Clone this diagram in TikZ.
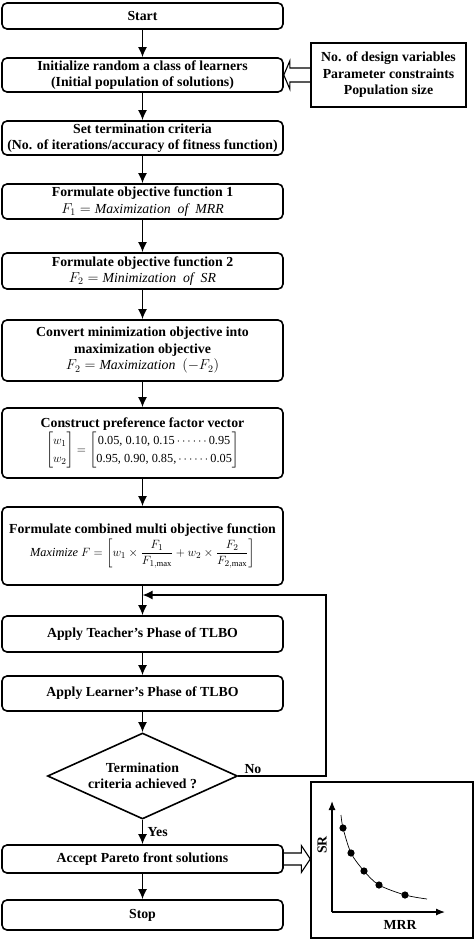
\documentclass[tikz,border=0pt]{standalone}
\usepackage{fontspec}
\setmainfont{Liberation Serif}
\usepackage{amsmath}
\usetikzlibrary{calc}
\usetikzlibrary{arrows,arrows.meta}
\usetikzlibrary{shapes.geometric}

\newcommand{\boxfont}{\bfseries\fontsize{13.8}{16.5}\selectfont}
\newcommand{\eqfont}{\mdseries\fontsize{12.3}{15}\selectfont}
\tikzset{
  stepbox/.style={draw, line width=1.6pt, rounded corners=5pt, minimum width=281pt, inner sep=1pt, align=center, font=\boxfont},
  flow/.style={line width=1.6pt, -{Latex[length=10pt,width=9pt]}},
  hollow/.style={line width=1.1pt, line join=miter},
}

\begin{document}
\begin{tikzpicture}[x=1pt, y=-1pt]
\useasboundingbox (0,0) rectangle (474,939);
% main column
\node[stepbox, minimum height=26pt] (start) at (142.5,16) {Start};
\node[stepbox, minimum height=34pt] (init) at (142.5,75) {Initialize random a class of learners\\(Initial population of solutions)};
\node[stepbox, minimum height=34pt] (term) at (142.5,138) {Set termination criteria\\(No. of iterations/accuracy of fitness function)};
\node[stepbox, minimum height=35pt] (obj1) at (142.5,201.5) {Formulate objective function 1\\ \mdseries $F_1 = \mathit{Maximization\ \ of\ \ MRR}$};
\node[stepbox, minimum height=36pt] (obj2) at (142.5,271) {Formulate objective function 2\\ \mdseries $F_2 = \mathit{Minimization\ \ of\ \ SR}$};
\node[stepbox, minimum height=61pt] (conv) at (142.5,350.5) {Convert minimization objective into\\maximization objective\\ \mdseries $F_2 = \mathit{Maximization}\ \ (-F_2)$};
\node[stepbox, minimum height=70pt] (pref) at (142.5,443) {Construct preference factor vector\\[1pt] \eqfont $\left[\begin{matrix} w_1\\[3pt] w_2\end{matrix}\right] = \left[\begin{matrix}\text{0.05, 0.10, 0.15}\cdots\cdots\text{0.95}\\[3pt] \text{0.95, 0.90, 0.85,}\cdots\cdots\text{0.05}\end{matrix}\right]$};
\node[stepbox, minimum height=78pt] (comb) at (142.5,546) {Formulate combined multi objective function\\[2pt] \eqfont $\mathit{Maximize}\ F = \left[ w_1 \times \dfrac{F_1}{F_{1,\max}} + w_2 \times \dfrac{F_2}{F_{2,\max}} \right]$};
\node[stepbox, minimum height=36pt] (teach) at (142.5,634) {Apply Teacher's Phase of TLBO};
\node[stepbox, minimum height=35pt] (learn) at (142.5,693.5) {Apply Learner's Phase of TLBO};
\node[draw, diamond, aspect=2.2, line width=1.6pt, minimum width=190pt, minimum height=86pt, inner sep=0pt, align=center, font=\boxfont] (check) at (142.5,776) {Termination\\criteria achieved ?};
\node[stepbox, minimum height=28pt] (accept) at (142.5,859) {Accept Pareto front solutions};
\node[stepbox, minimum height=30pt] (stop) at (142.5,915) {Stop};

\foreach \a/\b in {start/init, init/term, term/obj1, obj1/obj2, obj2/conv, conv/pref, pref/comb, comb/teach, teach/learn, learn/check, check/accept, accept/stop}
  \draw[flow] (\a) -- (\b);

% loop back
\coordinate (back) at (326,595);
\coordinate (join) at (142.5,595);
\draw[flow] (check.east) -| (back) -- (join);
\node[anchor=south west, font=\boxfont, inner sep=1pt] at ($(check.east)+(5,-1)$) {No};
\node[anchor=west, font=\boxfont, inner sep=1pt] at ($(check.south)!0.5!(accept.north)+(4,0)$) {Yes};

% side inputs
\node[draw, line width=1.4pt, minimum width=155pt, minimum height=64pt, inner sep=1pt, align=center, font=\boxfont] (vars) at (388.5,75) {No. of design variables\\Parameter constraints\\Population size};
\draw[hollow] ($(vars.west)+(0,-7)$) -- ($(init.east)+(6,-7)$) -- ($(init.east)+(6,-14)$) -- (init.east) -- ($(init.east)+(6,14)$) -- ($(init.east)+(6,7)$) -- ($(vars.west)+(0,7)$);

% pareto plot
\node[draw, line width=1.4pt, minimum width=162pt, minimum height=156pt] (plot) at (392,860) {};
\coordinate (tip) at (accept.east -| plot.west);
\draw[hollow] ($(accept.east)+(0,-6)$) -- ($(tip)+(-9,-6)$) -- ($(tip)+(-9,-13.5)$) -- (tip) -- ($(tip)+(-9,13.5)$) -- ($(tip)+(-9,6)$) -- ($(accept.east)+(0,6)$);
\coordinate (o) at (332,912);
\draw[line width=1.2pt, -{Latex[length=9pt,width=7pt]}] (o) -- (332,801);
\draw[line width=1.2pt, -{Latex[length=9pt,width=7pt]}] (o) -- (445,912);
\node[rotate=90, font=\boxfont] (sr) at (322,845) {SR};
\node[font=\boxfont] (mrr) at (400,925) {MRR};
\draw[line width=0.7pt] plot[smooth] coordinates {(341,815) (343,828) (351,853) (364,871) (379,885) (405,895) (427,899)};
\foreach \p in {(343,828), (351,853), (364,871), (379,885), (405,895)}
  \fill \p circle (3.6);
\end{tikzpicture}
\end{document}
